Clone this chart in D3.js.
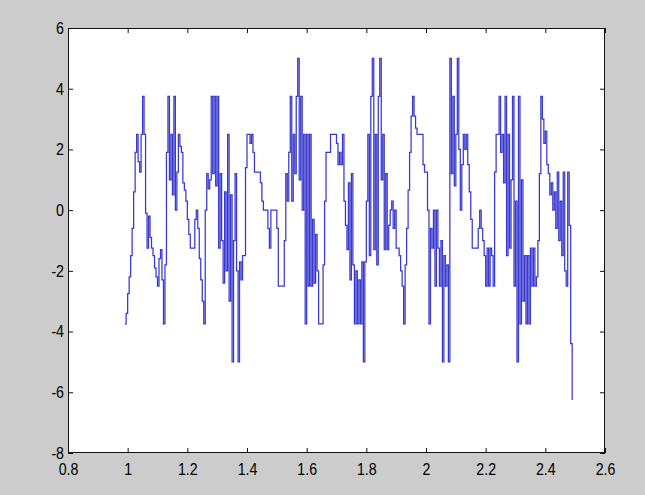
<!DOCTYPE html>
<html><head><meta charset="utf-8">
<script src="https://cdn.jsdelivr.net/npm/d3@7"></script>
<style>html,body{margin:0;padding:0;background:#cccccc;overflow:hidden}</style>
</head><body>
<svg id="chart" width="645" height="495"></svg>
<script>
// ---- data ----
const sampleStart = 0.99;   // x of first sample
const sampleStep = 0.005;   // spacing of samples along x
const signalValues = [
  -3.75, -3.4, -2.75, -2.2, -1.5, -0.6, 0.6, 1.9, 2.5, 1.6,
  1.25, 2.5, 3.75, 2.5, -0.1, -1.25, -0.2, -0.9, -1.25, -1.5,
  -1.9, -2.2, -2.5, -1.6, -1.3, -2.3, -3.75, -1.8, 1.9, 3.75,
  1.0, 2.5, 0.5, 3.75, 0.0, 1.25, 2.5, 2.1, 1.9, 0.9,
  0.66, 0.3, -0.3, -0.8, -1.25, -1.25, -1.25, -0.3, 0.0, -0.6,
  -1.6, -2.3, -3.0, -3.75, 0.0, 1.2, 0.7, 1.0, 3.75, 1.2,
  3.75, 0.8, 3.75, -1.25, 1.2, -1.0, -2.4, 0.6, -2.0, 2.5,
  -3.0, 0.5, -5.0, -1.0, 1.2, -2.0, -5.0, -1.7, -2.3, -1.5,
  -1.5, 1.4, 2.5, 2.5, 2.2, 2.5, 1.9, 1.25, 1.25, 1.25,
  1.25, 0.9, 0.3, 0.0, 0.0, 0.0, -0.6, -1.25, 0.0, 0.0,
  0.0, 0.0, -0.6, -2.5, -2.5, -2.5, -2.5, -1.0, 1.2, 0.3,
  1.9, 3.75, 0.3, 2.5, 1.2, 3.75, 5.0, 1.0, 3.75, 0.0,
  2.5, -3.75, 2.5, -2.5, 2.5, -2.5, -0.3, -2.4, -0.8, -2.0,
  -3.75, -3.75, -3.75, -1.8, 0.3, 1.9, 1.9, 1.9, 2.5, 2.5,
  2.5, 2.5, 2.2, 1.5, 1.9, 1.5, 2.5, 0.3, -0.5, -1.3,
  0.9, -2.3, 1.2, -1.8, -3.75, -2.0, -3.75, -2.3, -3.75, -1.7,
  -5.0, -1.7, 0.3, 2.5, -1.5, 3.75, 5.0, -1.3, 2.5, -1.8,
  3.75, 5.0, 1.0, 2.5, -1.3, 1.2, -1.3, -0.5, 0.0, 0.3,
  -0.6, 0.0, -1.25, -1.25, -1.5, -2.0, -2.5, -3.75, -1.8, -0.6,
  0.66, 1.9, 3.1, 3.75, 3.1, 2.7, 2.5, 2.5, 2.5, 2.5,
  1.5, 1.25, 1.25, 0.0, -3.75, -0.6, -1.25, 0.0, -2.5, 0.0,
  -1.25, -2.5, -1.0, -5.0, -1.5, -2.5, -1.8, -5.0, 5.0, 1.2,
  3.75, 0.8, 2.5, 5.0, 2.0, 0.0, 1.5, 2.5, 2.0, 2.5,
  1.5, 0.6, -0.3, -1.25, -1.25, -1.25, -1.25, -0.6, 0.0, -0.6,
  -1.0, -1.5, -2.5, -1.25, -2.5, -1.25, -1.5, -2.5, 1.25, 2.5,
  2.5, 3.75, 1.9, 2.5, 0.9, 3.75, -1.5, 2.5, -1.25, 1.0,
  3.75, -2.5, 0.3, -5.0, 3.75, -3.75, 1.0, -3.0, -1.5, -3.75,
  -1.5, -3.75, -1.25, -2.5, -1.25, -2.5, -2.2, -1.0, 1.2, 3.75,
  3.0, 2.2, 2.6, 1.5, 1.2, 0.5, 0.9, 0.0, 0.6, -0.6,
  1.25, -1.0, 0.3, -1.5, 1.25, -2.0, -2.5, 1.25, -0.5, -4.4, -6.25
];
const xTicks = [0.8, 1, 1.2, 1.4, 1.6, 1.8, 2, 2.2, 2.4, 2.6];
const xTickLabels = ["0.8", "1", "1.2", "1.4", "1.6", "1.8", "2", "2.2", "2.4", "2.6"];
const yTicks = [-8, -6, -4, -2, 0, 2, 4, 6];
const yTickLabels = ["-8", "-6", "-4", "-2", "0", "2", "4", "6"];
const xDomain = [0.8, 2.6];
const yDomain = [-8, 6];

// ---- layout ----
const box = {left: 68, right: 605, top: 28, bottom: 453};
const svg = d3.select("#chart");
svg.append("rect").attr("width", 645).attr("height", 495).attr("fill", "#cccccc");

const x = d3.scaleLinear().domain(xDomain).range([box.left, box.right]);
const y = d3.scaleLinear().domain(yDomain).range([box.bottom, box.top]);

svg.append("rect")
  .attr("x", box.left).attr("y", box.top)
  .attr("width", box.right - box.left).attr("height", box.bottom - box.top)
  .attr("fill", "#ffffff");

svg.append("clipPath").attr("id", "plotclip").append("rect")
  .attr("x", box.left).attr("y", box.top)
  .attr("width", box.right - box.left).attr("height", box.bottom - box.top);

const points = signalValues.map((v, i) => ({t: sampleStart + i * sampleStep, v}));
const line = d3.line().x(d => x(d.t)).y(d => y(d.v)).curve(d3.curveStepAfter);
svg.append("path")
  .datum(points)
  .attr("clip-path", "url(#plotclip)")
  .attr("fill", "none")
  .attr("stroke", "#3838d0")
  .attr("stroke-width", 1.25)
  .attr("d", line);

const font = "'Liberation Sans', Arial, Helvetica, sans-serif";
const squeeze = 0.86;

function styleAxis(g) {
  g.select(".domain").remove();
  g.selectAll(".tick line").attr("stroke", "#111").attr("stroke-width", 1);
  g.selectAll(".tick text").attr("fill", "#000").style("font-family", font).style("font-size", "16.5px");
}

const gB = svg.append("g").attr("transform", `translate(0,${box.bottom})`)
  .call(d3.axisBottom(x).tickValues(xTicks).tickFormat((d, i) => xTickLabels[i])
    .tickSizeInner(-5).tickSizeOuter(0).tickPadding(10));
styleAxis(gB);
gB.selectAll(".tick text").attr("transform", `scale(${squeeze},1)`);

const gT = svg.append("g").attr("transform", `translate(0,${box.top})`)
  .call(d3.axisTop(x).tickValues(xTicks).tickFormat("").tickSizeInner(-5).tickSizeOuter(0));
styleAxis(gT);

const gL = svg.append("g").attr("transform", `translate(${box.left},0)`)
  .call(d3.axisLeft(y).tickValues(yTicks).tickFormat((d, i) => yTickLabels[i])
    .tickSizeInner(-5).tickSizeOuter(0).tickPadding(4));
styleAxis(gL);
gL.selectAll(".tick text").each(function() {
  const t = d3.select(this);
  const xx = +t.attr("x");
  t.attr("x", xx / squeeze).attr("transform", `scale(${squeeze},1)`);
});

const gR = svg.append("g").attr("transform", `translate(${box.right},0)`)
  .call(d3.axisRight(y).tickValues(yTicks).tickFormat("").tickSizeInner(-5).tickSizeOuter(0));
styleAxis(gR);

svg.append("rect")
  .attr("x", box.left + 0.5).attr("y", box.top + 0.5)
  .attr("width", box.right - box.left - 1).attr("height", box.bottom - box.top - 1)
  .attr("fill", "none").attr("stroke", "#111").attr("stroke-width", 1);
</script>
</body></html>
